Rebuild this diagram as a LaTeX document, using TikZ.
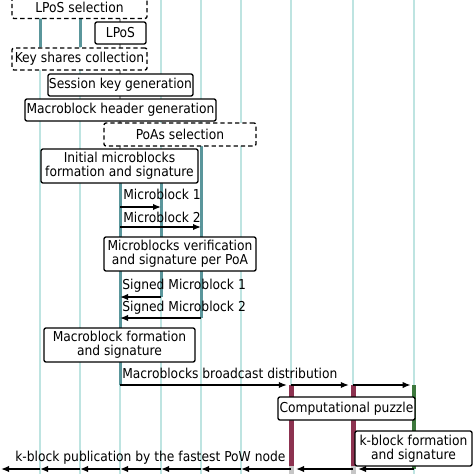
\documentclass[tikz,border=0pt]{standalone}
\usepackage{fontspec}
\setmainfont{DejaVu Sans Condensed}
\usepackage{tikz}
\usetikzlibrary{arrows.meta}
\definecolor{lifec}{RGB}{190,228,225}
\definecolor{actc}{RGB}{90,150,155}
\definecolor{powc}{RGB}{140,50,80}
\definecolor{winc}{RGB}{60,120,60}

\begin{document}
\begin{tikzpicture}[x=0.6pt, y=-0.6pt,
  every node/.style={font=\fontsize{8.2}{8.4}\selectfont, align=center},
  proc/.style={draw, thick, fill=white, rounded corners=1.2pt, inner sep=0pt},
  procd/.style={proc, dash pattern=on 2.6pt off 1.8pt},
  msg/.style={thick, -{Latex[length=4.8pt,width=3.8pt]}},
  lbl/.style={anchor=west, inner sep=0pt}]
\useasboundingbox (0,0) rectangle (474,474);
% lifelines
\foreach \x/\n in {40/1,80/2,120/3,161/4,201/5,241/6,291/7,353/8,414/9}{
  \coordinate (t\n) at (\x,0);
  \coordinate (b\n) at (\x,474);
  \draw[lifec, line width=0.9pt] (t\n) -- (b\n);
}
% message rows
\coordinate (r0) at (0,18);
\coordinate (r1) at (0,207);
\coordinate (r2) at (0,227);
\coordinate (r3) at (0,297);
\coordinate (r4) at (0,318);
\coordinate (r5) at (0,385);
\coordinate (r6) at (0,469);
\coordinate (r7) at (0,466);
% activations
\draw[gray!70, line width=0.8pt] (t3) -- (t3 |- 0,149);
\draw[actc, line width=1.8pt] (t1 |- r0) -- (t1 |- 0,47);
\draw[actc, line width=1.8pt] (t2 |- r0) -- (t2 |- 0,47);
\draw[actc, line width=1.8pt] (t3 |- 0,183) -- (t3 |- r5);
\draw[actc, line width=1.8pt] (t4 |- 0,183) -- (t4 |- r3);
\draw[actc, line width=1.8pt] (t5 |- 0,146) -- (t5 |- r4);
\draw[powc, line width=3pt] (t7 |- r5) -- (t7 |- r7);
\draw[powc, line width=3pt] (t8 |- r5) -- (t8 |- r7);
\draw[gray!45, line width=3pt] (t7 |- r7) -- (b7);
\draw[gray!45, line width=3pt] (t8 |- r7) -- (b8);
\draw[winc, line width=2.6pt] (t9 |- r5) -- (t9 |- r6);

% boxes
\node[procd, minimum width=81pt, minimum height=13.2pt] (lpossel) at (79.5,7.5) {LPoS selection};
\node[proc, minimum width=30.6pt, minimum height=13.2pt] (lpos) at (120.5,33) {LPoS};
\node[procd, minimum width=81pt, minimum height=13.2pt] (keysh) at (79.5,59) {Key shares collection};
\node[proc, minimum width=87pt, minimum height=13.2pt] (seskey) at (120.5,85) {Session key generation};
\node[proc, minimum width=114.6pt, minimum height=13.2pt] (mbhead) at (120.5,110) {Macroblock header generation};
\node[procd, minimum width=91.2pt, minimum height=13.8pt] (poasel) at (180,134.5) {PoAs selection};
\node[proc, minimum width=94.2pt, minimum height=20.4pt] (initmb) at (119.5,166) {Initial microblocks\\formation and signature};
\node[proc, minimum width=91.2pt, minimum height=20.4pt] (verif) at (180,254) {Microblocks verification\\and signature per PoA};
\node[proc, minimum width=90.6pt, minimum height=20.4pt] (macro) at (119.5,345) {Macroblock formation\\and signature};
\node[proc, minimum width=82.2pt, minimum height=13.8pt] (puzzle) at (346.5,408.5) {Computational puzzle};
\node[proc, minimum width=70.2pt, minimum height=21pt] (kblock) at (413.5,448.5) {k-block formation\\and signature};

% messages
\node[lbl] (lmb1) at (123,194) {Microblock 1};
\draw[msg] (t3 |- r1) -- (t4 |- r1);
\node[lbl] (lmb2) at (123,217) {Microblock 2};
\draw[msg] (t3 |- r2) -- (t5 |- r2);
\node[lbl] (lsmb1) at (122,286) {Signed Microblock 1};
\draw[msg] (t4 |- r3) -- (t3 |- r3);
\node[lbl] (lsmb2) at (122,308) {Signed Microblock 2};
\draw[msg] (t5 |- r4) -- (t3 |- r4);
\node[lbl] (lbcast) at (122,373) {Macroblocks broadcast distribution};
\draw[msg] (t3 |- r5) -- ([xshift=-2.5]t7 |- r5);
\draw[msg] (t7 |- r5) -- ([xshift=-2.5]t8 |- r5);
\draw[msg] (t8 |- r5) -- ([xshift=-2]t9 |- r5);
\node[lbl] (lpub) at (15,458) {k-block publication by the fastest PoW node};
\draw[msg] (t9 |- r6) -- ([xshift=3]t8 |- r6);
\draw[msg] (t8 |- r6) -- ([xshift=3]t7 |- r6);
\foreach \a/\b in {7/6,6/5,5/4,4/3,3/2,2/1}
  \draw[msg] (t\a |- r6) -- (t\b |- r6);
\draw[msg] (t1 |- r6) -- (1,469);
\end{tikzpicture}
\end{document}
